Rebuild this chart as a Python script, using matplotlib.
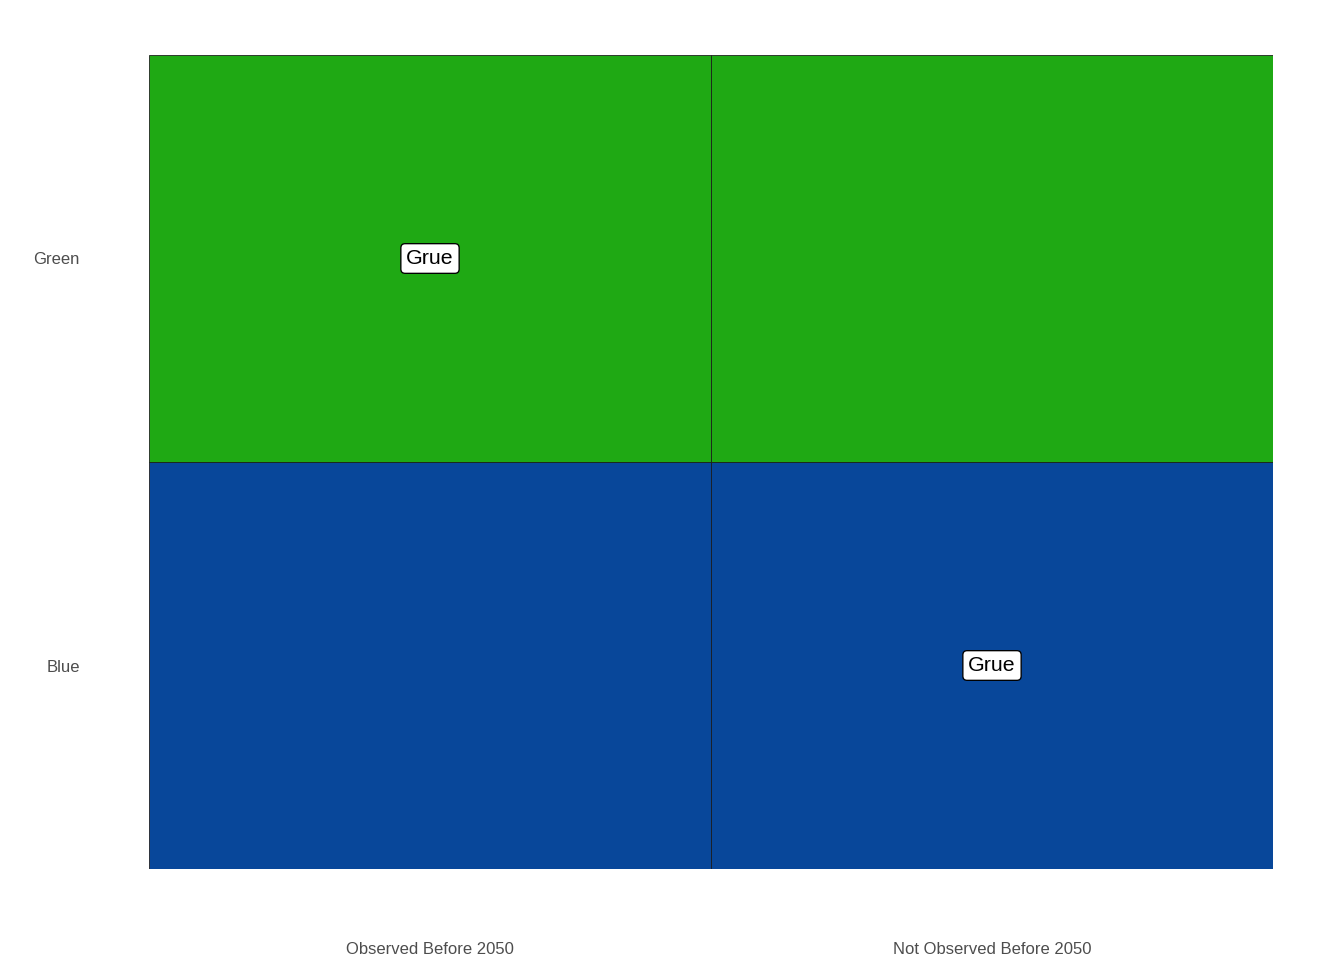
import matplotlib
matplotlib.use("Agg")
import matplotlib.pyplot as plt
from matplotlib.patches import Rectangle

x_labels = ["Observed Before 2050", "Not Observed Before 2050"]
y_labels = ["Blue", "Green"]
cell_colors = [["#08479A", "#08479A"], ["#1FA914", "#1FA914"]]
grue_cells = [(0, 1), (1, 0)]  # (x index, y index)

plt.rcParams["font.family"] = ["Liberation Sans", "DejaVu Sans"]
fig = plt.figure(figsize=(14, 10), dpi=96)
ax = fig.add_axes([149 / 1344, 1 - 869 / 960, 1124 / 1344, 814 / 960])

for yi in range(len(y_labels)):
    for xi in range(len(x_labels)):
        ax.add_patch(Rectangle((xi - 0.5, yi - 0.5), 1, 1, facecolor=cell_colors[yi][xi],
                               edgecolor="#1a1a1a", linewidth=0.6, alpha=1))

for xi, yi in grue_cells:
    ax.text(xi, yi, "Grue", ha="center", va="center", fontsize=16, color="black",
            bbox=dict(boxstyle="round,pad=0.25,rounding_size=0.2", facecolor="white",
                      edgecolor="black", linewidth=1))

ax.set_xlim(-0.5, 1.5)
ax.set_ylim(-0.5, 1.5)
ax.set_xticks(range(len(x_labels)))
ax.set_xticklabels(x_labels, fontsize=12.5, color="#4d4d4d")
ax.set_yticks(range(len(y_labels)))
ax.set_yticklabels(y_labels, fontsize=12.5, color="#4d4d4d")
ax.tick_params(length=0)
ax.tick_params(axis="x", pad=55)
ax.tick_params(axis="y", pad=52)
for s in ax.spines.values():
    s.set_visible(False)

fig.savefig("out.png", dpi=96)
